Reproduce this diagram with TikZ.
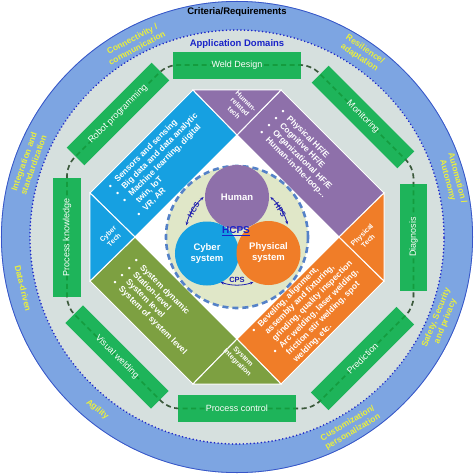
\documentclass[tikz,border=0pt]{standalone}
\usepackage{fontspec}
\setmainfont{Liberation Sans}
\usetikzlibrary{arrows.meta}
\definecolor{ringblue}{RGB}{125,165,226}
\definecolor{ringedge}{RGB}{55,85,200}
\definecolor{diskgray}{RGB}{214,224,222}
\definecolor{dotblue}{RGB}{30,40,200}
\definecolor{cybblue}{RGB}{22,160,225}
\definecolor{hupurple}{RGB}{142,112,170}
\definecolor{phorange}{RGB}{240,125,40}
\definecolor{sysolive}{RGB}{125,160,65}
\definecolor{boxgreen}{RGB}{30,180,90}
\definecolor{ringyellow}{RGB}{235,240,60}
\definecolor{hcpsfill}{RGB}{224,231,200}
\definecolor{hcpsdash}{RGB}{85,130,200}
\definecolor{arrowblue}{RGB}{30,30,175}
\definecolor{loopgray}{RGB}{85,85,85}
\definecolor{titleblue}{RGB}{25,35,200}
\tikzset{
 region/.style={draw=white, line width=1pt, line join=miter},
 appbox/.style={fill=boxgreen, inner sep=0pt},
 applabel/.style={text=white, font=\fontsize{9}{10}\selectfont, inner sep=0pt, align=center},
 bandtext/.style={text=white, font=\bfseries\fontsize{8.4}{10}\selectfont, inner sep=0pt},
 cornertext/.style={text=white, font=\bfseries\fontsize{7}{8.5}\selectfont, align=center, inner sep=0pt},
 ringtext/.style={text=ringyellow, font=\bfseries\fontsize{8.5}{10}\selectfont, align=center, inner sep=0pt},
 syscircle/.style={circle, minimum size=64pt, inner sep=0pt, text=white, font=\bfseries\fontsize{9.5}{11}\selectfont, align=center},
 linkarrow/.style={draw=arrowblue, line width=0.8pt, {Stealth[length=3.5pt,width=3pt]}-{Stealth[length=3.5pt,width=3pt]}},
 linktext/.style={text=arrowblue, font=\bfseries\fontsize{7.5}{8}\selectfont, inner sep=0pt},
 loopline/.style={line width=1.6pt, dash pattern=on 5pt off 3.5pt, rounded corners=10pt},
}
\begin{document}
\begin{tikzpicture}[x=1pt,y=1pt]
\useasboundingbox (-237,-237) rectangle (237,237);
\fill[white] (-237,-237) rectangle (237,237);
% rings
\fill[ringblue] (0,0) circle (236pt);
\draw[ringedge, line width=0.8pt] (0,0) circle (235.6pt);
\fill[diskgray] (0,0) circle (207pt);
\draw[dotblue, line width=1.8pt, line cap=round, dash pattern=on 0.01pt off 3.6pt] (0,0) circle (207pt);
% titles
\node[font=\bfseries\fontsize{9.5}{11}\selectfont, text=black] (crit) at (0,225) {Criteria/Requirements};
\node[font=\bfseries\fontsize{9.5}{11}\selectfont, text=titleblue] (appdom) at (0,193) {Application Domains};
% ring labels
\node[ringtext, rotate=27.9] (lconn) at (117.9:219pt) {Connectivity /\\communication};
\node[ringtext, rotate=-34.3] (lres) at (55.7:222pt) {Resilience/\\adaptation};
\node[ringtext, rotate=-75] (lauto) at (15:223pt) {Automation /\\Autonomy};
\node[ringtext, rotate=68] (lsafe) at (-22:220pt) {Safety, Security\\and privacy};
\node[ringtext, rotate=30.7] (lcust) at (-59.3:222pt) {Customization/\\personalization};
\node[ringtext, rotate=-39] (lagil) at (-129:222pt) {Agility};
\node[ringtext, rotate=-76.5] (ldata) at (-166.5:220pt) {Data-driven};
\node[ringtext, rotate=70.5] (linteg) at (160.5:221pt) {Integration and\\standardization};
% dashed loop
\coordinate (lTop) at (0,172);
\coordinate (cTR) at (74,172);
\coordinate (cRT) at (176.5,69.5);
\coordinate (cRB) at (176.5,-70.5);
\coordinate (cBR) at (75.5,-171.5);
\coordinate (cBL) at (-68.5,-171.5);
\coordinate (cLB) at (-170,-70);
\coordinate (cLT) at (-170,72);
\coordinate (cTL) at (-70,172);
\draw[loopline, draw=loopgray] (lTop) -- (cTR) -- (cRT) -- (cRB) -- (cBR) -- (cBL) -- (cLB) -- (cLT) -- (cTL) -- cycle;
% application boxes
\node[appbox, minimum width=127pt, minimum height=27pt] (weld) at (0,171.5) {};
\node[appbox, minimum width=117pt, minimum height=27pt] (pctrl) at (0,-171.5) {};
\node[appbox, rotate=90, minimum width=119pt, minimum height=28pt] (pknow) at (-170,0) {};
\node[appbox, rotate=90, minimum width=107pt, minimum height=27pt] (diag) at (176.5,0) {};
\node[appbox, rotate=45, minimum width=120pt, minimum height=25pt] (robot) at (-119,123) {};
\node[appbox, rotate=-45, minimum width=121pt, minimum height=24pt] (monit) at (126,120) {};
\node[appbox, rotate=-45, minimum width=121pt, minimum height=25pt] (visual) at (-120,-120) {};
\node[appbox, rotate=45, minimum width=121pt, minimum height=25pt] (predict) at (125.5,-121.5) {};
% dashes seen through the boxes
\draw[loopline, draw=black!60!green, opacity=0.3] (lTop) -- (cTR) -- (cRT) -- (cRB) -- (cBR) -- (cBL) -- (cLB) -- (cLT) -- (cTL) -- cycle;
% box labels
\node[applabel] (weldt) at (weld.center) {Weld Design};
\node[applabel] (pctrlt) at (pctrl.center) {Process control};
\node[applabel, rotate=90] (pknowt) at (pknow.center) {Process knowledge};
\node[applabel, rotate=90] (diagt) at (diag.center) {Diagnosis};
\node[applabel, rotate=45] (robott) at (robot.center) {Robot programming};
\node[applabel, rotate=-45] (monitt) at (monit.center) {Monitoring};
\node[applabel, rotate=-45] (visualt) at (visual.center) {Visual welding};
\node[applabel, rotate=45] (predictt) at (predict.center) {Prediction};
% octagon regions
\filldraw[region, fill=cybblue] (-147,44) -- (-44,147) -- (0,102) -- (-102,0) -- cycle;
\filldraw[region, fill=hupurple] (44,147) -- (147,44) -- (102,0) -- (0,102) -- cycle;
\filldraw[region, fill=phorange] (147,-44) -- (44,-147) -- (0,-102) -- (102,0) -- cycle;
\filldraw[region, fill=sysolive] (-44,-147) -- (-147,-44) -- (-102,0) -- (0,-102) -- cycle;
\filldraw[region, fill=hupurple] (-44,147) -- (44,147) -- (0,102) -- cycle;
\filldraw[region, fill=cybblue] (-147,44) -- (-147,-44) -- (-102,0) -- cycle;
\filldraw[region, fill=phorange] (147,44) -- (147,-44) -- (102,0) -- cycle;
\filldraw[region, fill=sysolive] (-44,-147) -- (44,-147) -- (0,-102) -- cycle;
\filldraw[region, fill=white] (-102,0) -- (0,102) -- (102,0) -- (0,-102) -- cycle;
% band texts
\node[bandtext, rotate=45] (cybertext) at (-73,75) {\begin{tabular}{@{}l@{\hspace{6pt}}l@{}}•&Sensors and sensing\\ •&Big data and data analytic\\ •&Machine learning, digital\\ &twin, IoT\\ •&VR, AR\end{tabular}};
\node[bandtext, rotate=-45] (humantext) at (66,83) {\begin{tabular}{@{}l@{\hspace{6pt}}l@{}}•&Physical HF/E\\ •&Cognitive HF/E\\ •&Organizational HF/E\\ •&Human-in-the-loop...\end{tabular}};
\node[bandtext, rotate=45] (phystext) at (76,-71) {\begin{tabular}{@{}l@{\hspace{6pt}}l@{}}•&Beveling, alignment,\\ &assembly and fixturing,\\ &grinding, quality inspection\\ •&Arc welding, laser welding,\\ &friction stir welding, spot\\ &welding, etc.\end{tabular}};
\node[bandtext, rotate=-45] (systext) at (-77,-70) {\begin{tabular}{@{}l@{\hspace{6pt}}l@{}}•&System dynamic\\ •&Station-level\\ •&System level\\ •&System of system level\end{tabular}};
% corner texts
\node[cornertext, rotate=-45] (hutech) at (3,130) {Human-\\related\\tech};
\node[cornertext, rotate=45] (cytech) at (-126,0) {Cyber\\Tech};
\node[cornertext, rotate=45] (phtech) at (128,-1) {Physical\\Tech};
\node[cornertext, rotate=-45] (sytech) at (3,-123) {System\\Integration};
% HCPS
\filldraw[fill=hcpsfill, draw=hcpsdash, line width=2.6pt, dash pattern=on 6pt off 4pt] (0,0) circle (71pt);
\node[syscircle, fill=hupurple] (human) at (0,40) {Human};
\node[syscircle, fill=cybblue] (cyber) at (-30,-16.5) {Cyber\\system};
\node[syscircle, fill=phorange] (physical) at (31.5,-16) {Physical\\system};
\coordinate (hcsA) at (130:52pt);
\coordinate (hpsA) at (14:52pt);
\coordinate (cpsA) at (250:48pt);
\draw[linkarrow] (hcsA) arc[start angle=130, end angle=167, radius=52pt];
\draw[linkarrow] (hpsA) arc[start angle=14, end angle=50, radius=52pt];
\draw[linkarrow] (cpsA) arc[start angle=250, end angle=290, radius=48pt];
\node[linktext, rotate=58] (hcs) at (148:51pt) {HCS};
\node[linktext, rotate=-58] (hps) at (32:51pt) {HPS};
\node[linktext] (cps) at (0,-43) {CPS};
\node[text=titleblue, font=\bfseries\fontsize{10}{12}\selectfont, inner sep=0pt] (hcps) at (-1,6) {\underline{HCPS}};
\end{tikzpicture}
\end{document}
